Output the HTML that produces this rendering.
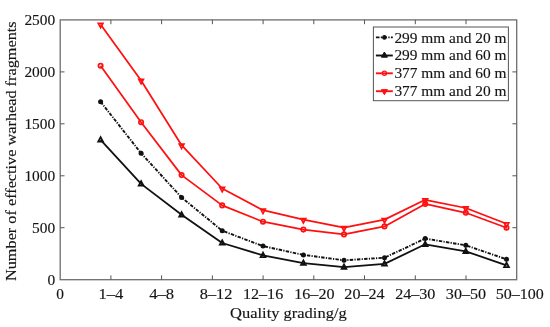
<!DOCTYPE html>
<html><head><meta charset="utf-8"><title>chart</title>
<style>html,body{margin:0;padding:0;background:#fff}svg{display:block}text{font-family:"Liberation Serif",serif;fill:#151515;stroke:#151515;stroke-width:0.15px}</style></head><body>
<svg width="550" height="327" viewBox="0 0 550 327">
<rect width="550" height="327" fill="#fff"/>
<rect x="60.2" y="19.9" width="456.5" height="259.8" fill="none" stroke="#6e6e6e" stroke-width="1.3"/>
<path d="M110.9 279.7v-4.3M110.9 19.9v4.3M161.6 279.7v-4.3M161.6 19.9v4.3M212.4 279.7v-4.3M212.4 19.9v4.3M263.1 279.7v-4.3M263.1 19.9v4.3M313.8 279.7v-4.3M313.8 19.9v4.3M364.5 279.7v-4.3M364.5 19.9v4.3M415.3 279.7v-4.3M415.3 19.9v4.3M466.0 279.7v-4.3M466.0 19.9v4.3M60.2 227.7h4.3M516.7 227.7h-4.3M60.2 175.8h4.3M516.7 175.8h-4.3M60.2 123.8h4.3M516.7 123.8h-4.3M60.2 71.9h4.3M516.7 71.9h-4.3" stroke="#555" stroke-width="1" fill="none"/>
<polyline points="100.6,24.5 141.1,80.5 181.6,145.2 222.2,188.5 263.0,210.2 303.4,219.6 344.0,227.6 384.5,219.6 425.2,199.8 465.8,208.0 506.5,223.8" fill="none" stroke="#ff1010" stroke-width="1.75" stroke-linejoin="round"/>
<polyline points="100.6,65.8 141.1,122.2 181.6,175.1 222.2,205.4 263.0,221.7 303.4,229.6 344.0,234.4 384.5,226.4 425.2,203.9 465.8,212.8 506.5,227.7" fill="none" stroke="#ff1010" stroke-width="1.75" stroke-linejoin="round"/>
<polyline points="100.6,101.8 141.1,153.2 181.6,197.5 222.2,230.7 263.0,246.1 303.4,254.9 344.0,260.3 384.5,257.7 425.2,238.6 465.8,245.3 506.5,259.3" fill="none" stroke="#111" stroke-width="1.9" stroke-dasharray="3.4 1.3 1.2 1.3" stroke-linejoin="round"/>
<polyline points="100.6,139.9 141.1,183.9 181.6,214.8 222.2,243.0 263.0,255.4 303.4,263.1 344.0,267.2 384.5,263.9 425.2,244.3 465.8,251.3 506.5,265.4" fill="none" stroke="#111" stroke-width="1.8" stroke-linejoin="round"/>
<path d="M98.20 23.40L103.00 23.40L100.60 27.90Z" fill="none" stroke="#ff1010" stroke-width="1.6" stroke-linejoin="miter"/>
<path d="M138.70 79.40L143.50 79.40L141.10 83.90Z" fill="none" stroke="#ff1010" stroke-width="1.6" stroke-linejoin="miter"/>
<path d="M179.20 144.10L184.00 144.10L181.60 148.60Z" fill="none" stroke="#ff1010" stroke-width="1.6" stroke-linejoin="miter"/>
<path d="M219.80 187.40L224.60 187.40L222.20 191.90Z" fill="none" stroke="#ff1010" stroke-width="1.6" stroke-linejoin="miter"/>
<path d="M260.60 209.10L265.40 209.10L263.00 213.60Z" fill="none" stroke="#ff1010" stroke-width="1.6" stroke-linejoin="miter"/>
<path d="M301.00 218.50L305.80 218.50L303.40 223.00Z" fill="none" stroke="#ff1010" stroke-width="1.6" stroke-linejoin="miter"/>
<path d="M341.60 226.50L346.40 226.50L344.00 231.00Z" fill="none" stroke="#ff1010" stroke-width="1.6" stroke-linejoin="miter"/>
<path d="M382.10 218.50L386.90 218.50L384.50 223.00Z" fill="none" stroke="#ff1010" stroke-width="1.6" stroke-linejoin="miter"/>
<path d="M422.80 198.70L427.60 198.70L425.20 203.20Z" fill="none" stroke="#ff1010" stroke-width="1.6" stroke-linejoin="miter"/>
<path d="M463.40 206.90L468.20 206.90L465.80 211.40Z" fill="none" stroke="#ff1010" stroke-width="1.6" stroke-linejoin="miter"/>
<path d="M504.10 222.70L508.90 222.70L506.50 227.20Z" fill="none" stroke="#ff1010" stroke-width="1.6" stroke-linejoin="miter"/>
<circle cx="100.6" cy="65.8" r="2.2" fill="none" stroke="#ff1010" stroke-width="1.7"/>
<circle cx="141.1" cy="122.2" r="2.2" fill="none" stroke="#ff1010" stroke-width="1.7"/>
<circle cx="181.6" cy="175.1" r="2.2" fill="none" stroke="#ff1010" stroke-width="1.7"/>
<circle cx="222.2" cy="205.4" r="2.2" fill="none" stroke="#ff1010" stroke-width="1.7"/>
<circle cx="263.0" cy="221.7" r="2.2" fill="none" stroke="#ff1010" stroke-width="1.7"/>
<circle cx="303.4" cy="229.6" r="2.2" fill="none" stroke="#ff1010" stroke-width="1.7"/>
<circle cx="344.0" cy="234.4" r="2.2" fill="none" stroke="#ff1010" stroke-width="1.7"/>
<circle cx="384.5" cy="226.4" r="2.2" fill="none" stroke="#ff1010" stroke-width="1.7"/>
<circle cx="425.2" cy="203.9" r="2.2" fill="none" stroke="#ff1010" stroke-width="1.7"/>
<circle cx="465.8" cy="212.8" r="2.2" fill="none" stroke="#ff1010" stroke-width="1.7"/>
<circle cx="506.5" cy="227.7" r="2.2" fill="none" stroke="#ff1010" stroke-width="1.7"/>
<circle cx="100.6" cy="101.8" r="2.5" fill="#111"/>
<circle cx="141.1" cy="153.2" r="2.5" fill="#111"/>
<circle cx="181.6" cy="197.5" r="2.5" fill="#111"/>
<circle cx="222.2" cy="230.7" r="2.5" fill="#111"/>
<circle cx="263.0" cy="246.1" r="2.5" fill="#111"/>
<circle cx="303.4" cy="254.9" r="2.5" fill="#111"/>
<circle cx="344.0" cy="260.3" r="2.5" fill="#111"/>
<circle cx="384.5" cy="257.7" r="2.5" fill="#111"/>
<circle cx="425.2" cy="238.6" r="2.5" fill="#111"/>
<circle cx="465.8" cy="245.3" r="2.5" fill="#111"/>
<circle cx="506.5" cy="259.3" r="2.5" fill="#111"/>
<path d="M98.25 141.60L102.95 141.60L100.60 137.20Z" fill="none" stroke="#111" stroke-width="1.8" stroke-linejoin="miter"/>
<path d="M138.75 185.60L143.45 185.60L141.10 181.20Z" fill="none" stroke="#111" stroke-width="1.8" stroke-linejoin="miter"/>
<path d="M179.25 216.50L183.95 216.50L181.60 212.10Z" fill="none" stroke="#111" stroke-width="1.8" stroke-linejoin="miter"/>
<path d="M219.85 244.70L224.55 244.70L222.20 240.30Z" fill="none" stroke="#111" stroke-width="1.8" stroke-linejoin="miter"/>
<path d="M260.65 257.10L265.35 257.10L263.00 252.70Z" fill="none" stroke="#111" stroke-width="1.8" stroke-linejoin="miter"/>
<path d="M301.05 264.80L305.75 264.80L303.40 260.40Z" fill="none" stroke="#111" stroke-width="1.8" stroke-linejoin="miter"/>
<path d="M341.65 268.90L346.35 268.90L344.00 264.50Z" fill="none" stroke="#111" stroke-width="1.8" stroke-linejoin="miter"/>
<path d="M382.15 265.60L386.85 265.60L384.50 261.20Z" fill="none" stroke="#111" stroke-width="1.8" stroke-linejoin="miter"/>
<path d="M422.85 246.00L427.55 246.00L425.20 241.60Z" fill="none" stroke="#111" stroke-width="1.8" stroke-linejoin="miter"/>
<path d="M463.45 253.00L468.15 253.00L465.80 248.60Z" fill="none" stroke="#111" stroke-width="1.8" stroke-linejoin="miter"/>
<path d="M504.15 267.10L508.85 267.10L506.50 262.70Z" fill="none" stroke="#111" stroke-width="1.8" stroke-linejoin="miter"/>
<text x="55.2" y="285.1" font-size="15.4" text-anchor="end">0</text>
<text x="55.2" y="233.1" font-size="15.4" text-anchor="end">500</text>
<text x="55.2" y="181.2" font-size="15.4" text-anchor="end">1000</text>
<text x="55.2" y="129.2" font-size="15.4" text-anchor="end">1500</text>
<text x="55.2" y="77.3" font-size="15.4" text-anchor="end">2000</text>
<text x="55.2" y="25.3" font-size="15.4" text-anchor="end">2500</text>
<text x="60.2" y="298.8" font-size="15.4" text-anchor="middle">0</text>
<text x="110.9" y="298.8" font-size="15.4" text-anchor="middle" textLength="24.9" lengthAdjust="spacingAndGlyphs">1–4</text>
<text x="161.6" y="298.8" font-size="15.4" text-anchor="middle" textLength="24.9" lengthAdjust="spacingAndGlyphs">4–8</text>
<text x="216.1" y="298.8" font-size="15.4" text-anchor="middle" textLength="32.6" lengthAdjust="spacingAndGlyphs">8–12</text>
<text x="263.1" y="298.8" font-size="15.4" text-anchor="middle" textLength="40.3" lengthAdjust="spacingAndGlyphs">12–16</text>
<text x="314.4" y="298.8" font-size="15.4" text-anchor="middle" textLength="40.3" lengthAdjust="spacingAndGlyphs">16–20</text>
<text x="364.5" y="298.8" font-size="15.4" text-anchor="middle" textLength="40.3" lengthAdjust="spacingAndGlyphs">20–24</text>
<text x="415.3" y="298.8" font-size="15.4" text-anchor="middle" textLength="40.3" lengthAdjust="spacingAndGlyphs">24–30</text>
<text x="466.0" y="298.8" font-size="15.4" text-anchor="middle" textLength="40.3" lengthAdjust="spacingAndGlyphs">30–50</text>
<text x="519.7" y="298.8" font-size="15.4" text-anchor="middle" textLength="48.0" lengthAdjust="spacingAndGlyphs">50–100</text>
<text x="288.4" y="318" font-size="15.4" text-anchor="middle" textLength="116.6" lengthAdjust="spacingAndGlyphs">Quality grading/g</text>
<text transform="translate(16.1 151.2) rotate(-90)" font-size="15.4" text-anchor="middle" textLength="259.6" lengthAdjust="spacingAndGlyphs">Number of effective warhead fragments</text>
<rect x="373.4" y="27.0" width="135.0" height="73.7" fill="#fff" stroke="#555" stroke-width="1"/>
<path d="M375.9 37.4H392.8" stroke="#111" stroke-width="1.8" stroke-dasharray="3.6 1.3 1.3 1.3"/>
<circle cx="384.4" cy="37.4" r="2.3" fill="#111"/>
<path d="M375.9 55.5H392.8" stroke="#111" stroke-width="1.9"/>
<path d="M381.4 57.2L387.4 57.2L384.4 52.0Z" fill="#111" stroke="#111" stroke-width="1"/>
<path d="M375.9 73.3H392.8" stroke="#ff1010" stroke-width="1.9"/>
<circle cx="384.4" cy="73.3" r="2.1" fill="none" stroke="#ff1010" stroke-width="1.3"/>
<path d="M375.9 91.2H392.8" stroke="#ff1010" stroke-width="1.9"/>
<path d="M381.4 89.60000000000001L387.4 89.60000000000001L384.4 94.7Z" fill="#ff1010" stroke="#ff1010" stroke-width="1"/>
<text x="394.4" y="42.5" font-size="15.4" textLength="112" lengthAdjust="spacing">299 mm and 20 m</text>
<text x="394.4" y="60.4" font-size="15.4" textLength="112" lengthAdjust="spacing">299 mm and 60 m</text>
<text x="394.4" y="78.2" font-size="15.4" textLength="112" lengthAdjust="spacing">377 mm and 60 m</text>
<text x="394.4" y="96.1" font-size="15.4" textLength="112" lengthAdjust="spacing">377 mm and 20 m</text>
</svg></body></html>
